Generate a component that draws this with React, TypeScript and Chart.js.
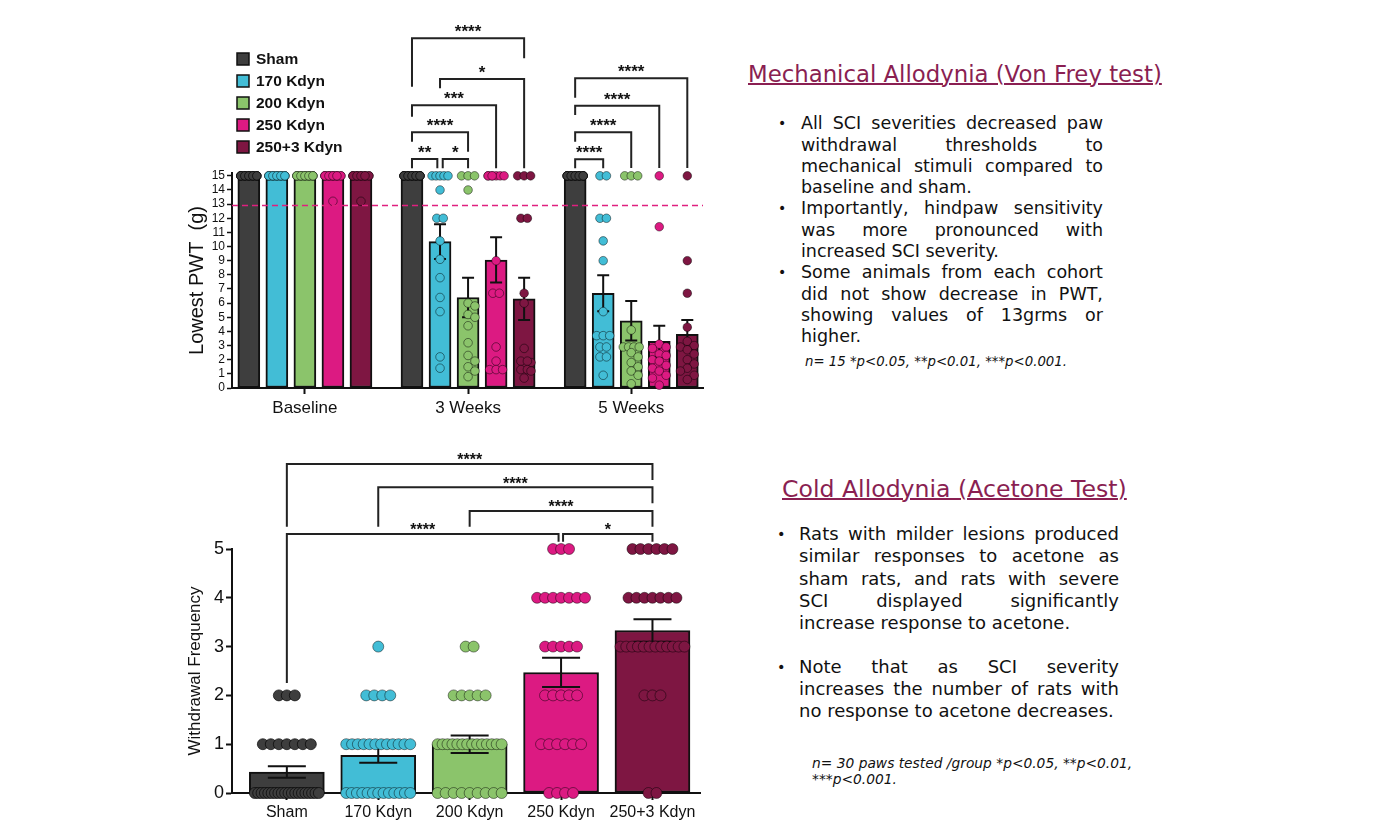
import React, { useEffect, useRef } from 'react';
import { Chart, registerables } from 'chart.js';

Chart.register(...registerables);
Chart.defaults.font.family = "'Liberation Sans', Arial, Helvetica, sans-serif";
Chart.defaults.color = '#111';

// ---------------- data ----------------
const SERIES = ['Sham', '170 Kdyn', '200 Kdyn', '250 Kdyn', '250+3 Kdyn'];
const COLORS = ['#3e3e3e', '#42bdd6', '#8bc46b', '#dc1a82', '#7e1642'];
const TIMEPOINTS = ['Baseline', '3 Weeks', '5 Weeks'];
const PWT_TICKS = [0, 1, 2, 3, 4, 5, 6, 7, 8, 9, 10, 11, 12, 13, 14, 15];
const PWT_THRESHOLD = 12.9;

// mean lowest PWT (g) per timepoint
const SHAM_PWT_MEAN = [15, 15, 15];
const K170_PWT_MEAN = [15, 10.35, 6.7];
const K200_PWT_MEAN = [15, 6.4, 4.75];
const K250_PWT_MEAN = [14.9, 9.05, 3.3];
const K2503_PWT_MEAN = [14.9, 6.3, 3.8];
// SEM per timepoint
const SHAM_PWT_SEM = [0, 0, 0];
const K170_PWT_SEM = [0, 1.23, 1.27];
const K200_PWT_SEM = [0, 1.4, 1.4];
const K250_PWT_SEM = [0.12, 1.6, 1.1];
const K2503_PWT_SEM = [0.12, 1.5, 1.0];

// individual animals (n = 15) per timepoint
const SHAM_PWT = [
  [15, 15, 15, 15, 15, 15, 15, 15, 15, 15, 15, 15, 15, 15, 15],
  [15, 15, 15, 15, 15, 15, 15, 15, 15, 15, 15, 15, 15, 15, 15],
  [15, 15, 15, 15, 15, 15, 15, 15, 15, 15, 15, 15, 15, 15, 15],
];
const K170_PWT = [
  [15, 15, 15, 15, 15, 15, 15, 15, 15, 15, 15, 15, 15, 15, 15],
  [15, 15, 15, 15, 15, 14, 12, 12, 10.4, 9.1, 7.8, 6.4, 5.4, 2.2, 1.4],
  [15, 15, 12, 12, 10.4, 9.0, 5.4, 3.7, 3.7, 3.7, 2.9, 2.9, 2.2, 2.2, 0.9],
];
const K200_PWT = [
  [15, 15, 15, 15, 15, 15, 15, 15, 15, 15, 15, 15, 15, 15, 15],
  [15, 15, 15, 14, 6.0, 5.8, 5.2, 5.0, 4.4, 3.2, 2.3, 1.9, 1.5, 1.2, 0.8],
  [15, 15, 15, 4.1, 2.9, 2.9, 2.9, 2.9, 2.5, 2.2, 1.8, 1.5, 1.2, 0.9, 0.3],
];
const K250_PWT = [
  [15, 15, 15, 15, 15, 15, 15, 15, 15, 15, 15, 15, 15, 15, 13.2],
  [15, 15, 15, 15, 15, 15, 15, 9.0, 6.7, 6.7, 2.9, 1.9, 1.3, 1.3, 1.3],
  [15, 11.4, 3.1, 2.9, 2.8, 2.4, 2.3, 2.0, 1.9, 1.6, 1.4, 1.2, 0.9, 0.7, 0.2],
];
const K2503_PWT = [
  [15, 15, 15, 15, 15, 15, 15, 15, 15, 15, 15, 15, 15, 15, 13.2],
  [15, 15, 15, 12, 12, 6.7, 6.0, 2.8, 1.9, 1.8, 1.9, 1.3, 1.3, 1.2, 0.7],
  [15, 9.0, 6.7, 4.3, 3.3, 3.0, 2.9, 2.7, 2.4, 2.0, 1.7, 1.4, 1.2, 0.9, 0.6],
];

// Cold allodynia (acetone), n = 30 paws
const COLD_TICKS = [0, 1, 2, 3, 4, 5];
const COLD_MEAN = [0.43, 0.77, 1.0, 2.47, 3.33];
const COLD_SEM = [0.12, 0.15, 0.18, 0.3, 0.23];
const COLD_SHAM = [0, 0, 0, 0, 0, 0, 0, 0, 0, 0, 0, 0, 0, 0, 0, 0, 0, 0, 0, 0, 1, 1, 1, 1, 1, 1, 1, 2, 2, 2];
const COLD_K170 = [0, 0, 0, 0, 0, 0, 0, 0, 0, 0, 0, 0, 0, 1, 1, 1, 1, 1, 1, 1, 1, 1, 1, 1, 1, 2, 2, 2, 2, 3];
const COLD_K200 = [0, 0, 0, 0, 0, 0, 0, 0, 0, 1, 1, 1, 1, 1, 1, 1, 1, 1, 1, 1, 1, 1, 1, 2, 2, 2, 2, 2, 3, 3];
const COLD_K250 = [0, 0, 0, 0, 1, 1, 1, 1, 1, 1, 2, 2, 2, 2, 2, 3, 3, 3, 3, 3, 4, 4, 4, 4, 4, 4, 4, 5, 5, 5];
const COLD_K2503 = [0, 0, 2, 2, 2, 3, 3, 3, 3, 3, 3, 3, 3, 3, 3, 3, 3, 4, 4, 4, 4, 4, 4, 4, 5, 5, 5, 5, 5, 5];

const PWT_MEANS = [SHAM_PWT_MEAN, K170_PWT_MEAN, K200_PWT_MEAN, K250_PWT_MEAN, K2503_PWT_MEAN];
const PWT_SEMS = [SHAM_PWT_SEM, K170_PWT_SEM, K200_PWT_SEM, K250_PWT_SEM, K2503_PWT_SEM];
const PWT_VALUES = [SHAM_PWT, K170_PWT, K200_PWT, K250_PWT, K2503_PWT];
const COLD_VALUES = [COLD_SHAM, COLD_K170, COLD_K200, COLD_K250, COLD_K2503];

// significance annotations (layout: y in canvas px, drops in px)
const PWT_BRACKETS = [
  { g: 1, a: 0, b: 1, label: '**', y: 159, dropA: 9.3, dropB: 9.3, nudgeA: 0, nudgeB: -2.7 },
  { g: 1, a: 1, b: 2, label: '*', y: 159, dropA: 9.3, dropB: 9.3, nudgeA: 2.7, nudgeB: 0 },
  { g: 1, a: 0, b: 2, label: '****', y: 132.3, dropA: 9.4, dropB: 19.4, nudgeA: 0, nudgeB: 0 },
  { g: 1, a: 0, b: 3, label: '***', y: 105.3, dropA: 11.4, dropB: 63, nudgeA: 0, nudgeB: 0 },
  { g: 1, a: 1, b: 4, label: '*', y: 79, dropA: 9.3, dropB: 89.3, nudgeA: 0, nudgeB: 0 },
  { g: 1, a: 0, b: 4, label: '****', y: 38.3, dropA: 48.4, dropB: 20, nudgeA: 0, nudgeB: 0 },
  { g: 2, a: 0, b: 1, label: '****', y: 159.3, dropA: 9, dropB: 9, nudgeA: 0, nudgeB: 0 },
  { g: 2, a: 0, b: 2, label: '****', y: 132.3, dropA: 9.4, dropB: 35.7, nudgeA: 0, nudgeB: 0 },
  { g: 2, a: 0, b: 3, label: '****', y: 105.7, dropA: 9.3, dropB: 62.3, nudgeA: 0, nudgeB: 0 },
  { g: 2, a: 0, b: 4, label: '****', y: 78.3, dropA: 19.4, dropB: 89.7, nudgeA: 0, nudgeB: 0 },
];
const COLD_BRACKETS = [
  { g: 0, a: 0, b: 4, label: '****', y: 34, dropA: 62.7, dropB: 16, nudgeA: 0, nudgeB: 0 },
  { g: 0, a: 1, b: 4, label: '****', y: 57.3, dropA: 39.4, dropB: 16, nudgeA: 0, nudgeB: 0 },
  { g: 0, a: 2, b: 4, label: '****', y: 81, dropA: 15.7, dropB: 15.7, nudgeA: 0, nudgeB: 0 },
  { g: 0, a: 0, b: 3, label: '****', y: 104, dropA: 149, dropB: 7.7, nudgeA: 0, nudgeB: -2.5 },
  { g: 0, a: 3, b: 4, label: '*', y: 104, dropA: 7.7, dropB: 7.7, nudgeA: 2, nudgeB: 0 },
];

// ---------------- layout helpers ----------------
const GROUP_STEP = 5.82; // distance between timepoint groups, in bar steps
const groupCenter = (g: number) => g * GROUP_STEP;
const barX = (g: number, s: number) => groupCenter(g) + (s - 2);
const TOP_PX_X = 28.04;
const TOP_PX_Y = 14.14;
const COLD_PX_X = 91.4;
const COLD_PX_Y = 48.8;

function swarmOffsets(values: number[], pxX: number, pxY: number, r: number, maxHalf: number, rowGap: number, minGap: number): number[] {
  const offs = values.map(() => 0);
  const byValue = new Map<number, number[]>();
  values.forEach((v, i) => {
    const key = Math.round(v * 1000);
    const list = byValue.get(key) || [];
    list.push(i);
    byValue.set(key, list);
  });
  const placed: { x: number; y: number }[] = [];
  const singles: number[] = [];
  byValue.forEach((idx) => {
    if (idx.length < 2) {
      singles.push(idx[0]);
      return;
    }
    const k = idx.length;
    const nPos = Math.max(2, Math.min(k, Math.floor((2 * maxHalf) / minGap) + 1));
    const sp = Math.min(rowGap, (2 * maxHalf) / (nPos - 1));
    idx.forEach((i, j) => {
      const px = ((j % nPos) - (nPos - 1) / 2) * sp;
      offs[i] = px / pxX;
      placed.push({ x: px, y: values[i] * pxY });
    });
  });
  singles.sort((a, b) => values[b] - values[a]);
  const minDist = 2 * r * 0.92;
  const step = r * 0.8;
  singles.forEach((i) => {
    const y = values[i] * pxY;
    let best = 0;
    let bestOverlap = Infinity;
    for (let t = 0; t * step <= maxHalf + 0.01; t++) {
      const cands = t === 0 ? [0] : [t * step, -t * step];
      let done = false;
      for (const c of cands) {
        let ov = 0;
        placed.forEach((p) => {
          const d = Math.hypot(p.x - c, p.y - y);
          ov = Math.max(ov, minDist - d);
        });
        if (ov <= 0) {
          best = c;
          done = true;
          break;
        }
        if (ov < bestOverlap) {
          bestOverlap = ov;
          best = c;
        }
      }
      if (done) break;
    }
    offs[i] = best / pxX;
    placed.push({ x: best, y });
  });
  return offs;
}

// ---------------- plugins ----------------
function errorBarPlugin(getSem: (ds: number, i: number) => number, capW: number) {
  return {
    id: 'errorBars',
    afterDatasetDraw(chart: any, args: any) {
      const meta = args.meta;
      if (meta.type !== 'bar') return;
      const ds = chart.data.datasets[args.index];
      const yS = chart.scales.y;
      const ctx = chart.ctx;
      ctx.save();
      ctx.strokeStyle = '#111';
      ctx.lineWidth = 2;
      meta.data.forEach((el: any, i: number) => {
        const mean = ds.data[i].y;
        const sem = getSem(args.index, i);
        if (!sem) return;
        const x = el.x;
        const yt = yS.getPixelForValue(mean + sem);
        const yb = yS.getPixelForValue(mean - sem);
        ctx.beginPath();
        ctx.moveTo(x, yt);
        ctx.lineTo(x, yb);
        ctx.moveTo(x - capW / 2, yt);
        ctx.lineTo(x + capW / 2, yt);
        ctx.moveTo(x - capW / 2, yb);
        ctx.lineTo(x + capW / 2, yb);
        ctx.stroke();
      });
      ctx.restore();
    },
  };
}

function bracketPlugin(brackets: any[], xOf: (g: number, s: number) => number, fontSize: number, textRise: number) {
  return {
    id: 'brackets',
    afterDraw(chart: any) {
      const ctx = chart.ctx;
      const xS = chart.scales.x;
      ctx.save();
      ctx.strokeStyle = '#222';
      ctx.lineWidth = 2;
      ctx.lineJoin = 'miter';
      ctx.fillStyle = '#111';
      ctx.font = `bold ${fontSize}px 'Liberation Sans', Arial, sans-serif`;
      ctx.textAlign = 'center';
      ctx.textBaseline = 'alphabetic';
      brackets.forEach((b) => {
        const xa = xS.getPixelForValue(xOf(b.g, b.a)) + b.nudgeA;
        const xb = xS.getPixelForValue(xOf(b.g, b.b)) + b.nudgeB;
        ctx.beginPath();
        ctx.moveTo(xa, b.y + b.dropA);
        ctx.lineTo(xa, b.y);
        ctx.lineTo(xb, b.y);
        ctx.lineTo(xb, b.y + b.dropB);
        ctx.stroke();
        const cy = b.y - textRise;
        ctx.fillText(b.label, (xa + xb) / 2, cy + fontSize * 0.58);
      });
      ctx.restore();
    },
  };
}

const thresholdPlugin = {
  id: 'threshold',
  afterDatasetsDraw(chart: any) {
    const { ctx, chartArea } = chart;
    const y = chart.scales.y.getPixelForValue(PWT_THRESHOLD);
    ctx.save();
    ctx.strokeStyle = '#e0207f';
    ctx.lineWidth = 1.6;
    ctx.setLineDash([6, 4]);
    ctx.beginPath();
    ctx.moveTo(chartArea.left, y);
    ctx.lineTo(chartArea.right, y);
    ctx.stroke();
    ctx.restore();
  },
};

const legendPlugin = {
  id: 'pwtLegend',
  afterDraw(chart: any) {
    const ctx = chart.ctx;
    ctx.save();
    ctx.font = "bold 15.5px 'Liberation Sans', Arial, sans-serif";
    ctx.textBaseline = 'middle';
    ctx.textAlign = 'left';
    SERIES.forEach((name, i) => {
      const cy = 59 + i * 22;
      ctx.fillStyle = COLORS[i];
      ctx.fillRect(237, cy - 6, 12, 12);
      ctx.strokeStyle = '#111';
      ctx.lineWidth = 1.5;
      ctx.strokeRect(237, cy - 6, 12, 12);
      ctx.fillStyle = '#111';
      ctx.fillText(name, 256, cy + 1);
    });
    ctx.restore();
  },
};

// ---------------- chart configs ----------------
function makePwtConfig(): any {
  const bars = SERIES.map((name, s) => ({
    type: 'bar',
    label: name,
    data: PWT_MEANS[s].map((m, g) => ({ x: barX(g, s), y: m })),
    backgroundColor: COLORS[s],
    borderColor: '#111',
    borderWidth: 2,
    borderSkipped: false,
    barThickness: 22,
    maxBarThickness: 22,
    grouped: false,
    order: 2,
  }));
  const dots = SERIES.map((name, s) => ({
    type: 'scatter',
    label: name + ' animals',
    data: PWT_VALUES[s].flatMap((vals, g) => {
      const offs = swarmOffsets(vals, TOP_PX_X, TOP_PX_Y, 4.3, 8, 6.5, 4);
      return vals.map((v, i) => ({ x: barX(g, s) + offs[i], y: v }));
    }),
    pointRadius: 4.3,
    pointBackgroundColor: COLORS[s],
    pointBorderColor: s === 0 ? 'rgba(0,0,0,0.7)' : 'rgba(0,0,0,0.5)',
    pointBorderWidth: 0.9,
    clip: false,
    order: 1,
  }));
  return {
    type: 'bar',
    data: { datasets: [...bars, ...dots] },
    options: {
      responsive: false,
      animation: false,
      events: [],
      layout: { padding: { left: 180, right: 37, top: 173, bottom: 0 } },
      plugins: { legend: { display: false }, tooltip: { enabled: false } },
      scales: {
        x: {
          type: 'linear',
          min: -2.6,
          max: 14.2,
          offset: false,
          afterBuildTicks: (sc: any) => {
            sc.ticks = TIMEPOINTS.map((_t, g) => ({ value: groupCenter(g) }));
          },
          afterFit: (sc: any) => {
            sc.height = 42;
          },
          ticks: {
            callback: (_v: any, i: number) => TIMEPOINTS[i],
            font: { size: 17 },
            color: '#111',
            padding: 4,
            autoSkip: false,
            maxRotation: 0,
          },
          grid: { display: true, drawOnChartArea: false, drawTicks: true, tickLength: 6, tickWidth: 2, tickColor: '#111', offset: false },
          border: { display: true, color: '#111', width: 2 },
        },
        y: {
          type: 'linear',
          min: 0,
          max: 15.2,
          afterBuildTicks: (sc: any) => {
            sc.ticks = PWT_TICKS.map((v) => ({ value: v }));
          },
          afterFit: (sc: any) => {
            sc.width = 52;
          },
          ticks: { font: { size: 12 }, color: '#111', padding: 2, autoSkip: false, callback: (v: any) => String(v) },
          grid: { display: true, drawOnChartArea: false, tickLength: 5, tickWidth: 1.5, tickColor: '#111' },
          border: { display: true, color: '#111', width: 2 },
          title: { display: true, text: 'Lowest PWT  (g)', font: { size: 20 }, color: '#111', padding: { top: 5, bottom: 0 } },
        },
      },
    },
    plugins: [
      errorBarPlugin((ds, i) => PWT_SEMS[ds][i], 12),
      thresholdPlugin,
      bracketPlugin(PWT_BRACKETS, (g, s) => barX(g, s), 17, 11),
      legendPlugin,
    ],
  };
}

function makeColdConfig(): any {
  const bar = {
    type: 'bar',
    label: 'Withdrawal Frequency',
    data: COLD_MEAN.map((m, c) => ({ x: c, y: m })),
    backgroundColor: COLORS,
    borderColor: '#111',
    borderWidth: 2,
    borderSkipped: false,
    barThickness: 75,
    maxBarThickness: 75,
    grouped: false,
    order: 2,
  };
  const dots = SERIES.map((name, c) => {
    const vals = COLD_VALUES[c];
    const offs = swarmOffsets(vals, COLD_PX_X, COLD_PX_Y, 5.5, 32, 8, 3);
    return {
      type: 'scatter',
      label: name,
      data: vals.map((v, i) => ({ x: c + offs[i], y: v })),
      pointRadius: 5.5,
      pointBackgroundColor: COLORS[c],
      pointBorderColor: c === 0 ? 'rgba(0,0,0,0.7)' : 'rgba(0,0,0,0.5)',
      pointBorderWidth: 0.9,
      clip: false,
      order: 1,
    };
  });
  return {
    type: 'bar',
    data: { datasets: [bar, ...dots] },
    options: {
      responsive: false,
      animation: false,
      events: [],
      layout: { padding: { left: 180, right: 40, top: 119, bottom: 0 } },
      plugins: { legend: { display: false }, tooltip: { enabled: false } },
      scales: {
        x: {
          type: 'linear',
          min: -0.6,
          max: 4.52,
          offset: false,
          afterBuildTicks: (sc: any) => {
            sc.ticks = SERIES.map((_n, c) => ({ value: c }));
          },
          afterFit: (sc: any) => {
            sc.height = 45;
          },
          ticks: {
            callback: (_v: any, i: number) => SERIES[i],
            font: { size: 16 },
            color: '#111',
            padding: 3,
            autoSkip: false,
            maxRotation: 0,
          },
          grid: { display: true, drawOnChartArea: false, drawTicks: true, tickLength: 7, tickWidth: 2, tickColor: '#111', offset: false },
          border: { display: true, color: '#111', width: 2 },
        },
        y: {
          type: 'linear',
          min: 0,
          max: 5,
          afterBuildTicks: (sc: any) => {
            sc.ticks = COLD_TICKS.map((v) => ({ value: v }));
          },
          afterFit: (sc: any) => {
            sc.width = 52;
          },
          ticks: { font: { size: 18 }, color: '#111', padding: 2, autoSkip: false, callback: (v: any) => String(v) },
          grid: { display: true, drawOnChartArea: false, tickLength: 6, tickWidth: 2, tickColor: '#111' },
          border: { display: true, color: '#111', width: 2 },
          title: { display: true, text: 'Withdrawal Frequency', font: { size: 17 }, color: '#111', padding: { top: 5, bottom: 0 } },
        },
      },
    },
    plugins: [
      errorBarPlugin((_ds, i) => COLD_SEM[i], 38),
      bracketPlugin(COLD_BRACKETS, (_g, s) => s, 16, 8),
    ],
  };
}

// ---------------- components ----------------
function ChartBox({ left, top, width, height, make }: any) {
  const ref = useRef<HTMLCanvasElement>(null);
  useEffect(() => {
    const chart = new Chart(ref.current as HTMLCanvasElement, make());
    return () => chart.destroy();
  }, []);
  return (
    <div style={{ position: 'absolute', left, top, width, height }}>
      <canvas ref={ref} width={width} height={height} style={{ display: 'block', width, height }} />
    </div>
  );
}

const TEXT_FONT = "'DejaVu Sans', Verdana, sans-serif";
const TITLE_COLOR = '#8a1f52';

function JustLine({ text, last }: { text: string; last: boolean }) {
  if (last) return <div style={{ whiteSpace: 'nowrap' }}>{text}</div>;
  const words = text.split(' ');
  return (
    <div style={{ display: 'flex', justifyContent: 'space-between', whiteSpace: 'nowrap' }}>
      {words.map((w, i) => (
        <span key={i}>{w}</span>
      ))}
    </div>
  );
}

function BulletBlock({ bulletLeft, textLeft, top, width, fontSize, lineHeight, paragraphs, gapLines }: any) {
  return (
    <div style={{ position: 'absolute', left: bulletLeft, top, fontFamily: TEXT_FONT, fontSize, lineHeight: `${lineHeight}px`, color: '#111' }}>
      {paragraphs.map((lines: string[], pi: number) => (
        <div key={pi} style={{ position: 'relative', paddingLeft: textLeft - bulletLeft, width, marginTop: pi > 0 ? gapLines * lineHeight : 0 }}>
          <span style={{ position: 'absolute', left: 0, top: 0, fontSize: fontSize * 0.8 }}>•</span>
          {lines.map((ln, li) => (
            <JustLine key={li} text={ln} last={li === lines.length - 1} />
          ))}
        </div>
      ))}
    </div>
  );
}

const MECH_PARAGRAPHS = [
  ['All SCI severities decreased paw', 'withdrawal thresholds to', 'mechanical stimuli compared to', 'baseline and sham.'],
  ['Importantly, hindpaw sensitivity', 'was more pronounced with', 'increased SCI severity.'],
  ['Some animals from each cohort', 'did not show decrease in PWT,', 'showing values of 13grms or', 'higher.'],
];
const COLD_PARAGRAPHS = [
  ['Rats with milder lesions produced', 'similar responses to acetone as', 'sham rats, and rats with severe', 'SCI displayed significantly', 'increase response to acetone.'],
  ['Note that as SCI severity', 'increases the number of rats with', 'no response to acetone decreases.'],
];

export default function App() {
  return (
    <div style={{ position: 'absolute', left: 0, top: 0, width: 1386, height: 838, background: '#fff', overflow: 'hidden' }}>
      <ChartBox left={0} top={0} width={740} height={430} make={makePwtConfig} />
      <ChartBox left={0} top={430} width={740} height={408} make={makeColdConfig} />

      <div style={{ position: 'absolute', left: 748, top: 61, fontFamily: TEXT_FONT, fontSize: 22.8, lineHeight: '26px', color: TITLE_COLOR, textDecoration: 'underline', textDecorationThickness: '1.5px', whiteSpace: 'nowrap' }}>
        Mechanical Allodynia (Von Frey test)
      </div>
      <BulletBlock bulletLeft={778} textLeft={801} top={113.3} width={302} fontSize={17.5} lineHeight={21.3} paragraphs={MECH_PARAGRAPHS} gapLines={0} />
      <div style={{ position: 'absolute', left: 805, top: 354, fontFamily: TEXT_FONT, fontStyle: 'italic', fontSize: 13.3, lineHeight: '15px', color: '#111', whiteSpace: 'nowrap' }}>
        n= 15 *p&lt;0.05, **p&lt;0.01, ***p&lt;0.001.
      </div>

      <div style={{ position: 'absolute', left: 782, top: 476, fontFamily: TEXT_FONT, fontSize: 23.6, lineHeight: '27px', color: TITLE_COLOR, textDecoration: 'underline', textDecorationThickness: '1.5px', whiteSpace: 'nowrap' }}>
        Cold Allodynia (Acetone Test)
      </div>
      <BulletBlock bulletLeft={777} textLeft={799} top={523.4} width={320} fontSize={18} lineHeight={22.1} paragraphs={COLD_PARAGRAPHS} gapLines={1} />
      <div style={{ position: 'absolute', left: 812, top: 754.6, fontFamily: TEXT_FONT, fontStyle: 'italic', fontSize: 13.8, lineHeight: '16.7px', color: '#111', whiteSpace: 'nowrap' }}>
        <div>n= 30 paws tested /group *p&lt;0.05, **p&lt;0.01,</div>
        <div>***p&lt;0.001.</div>
      </div>
    </div>
  );
}
